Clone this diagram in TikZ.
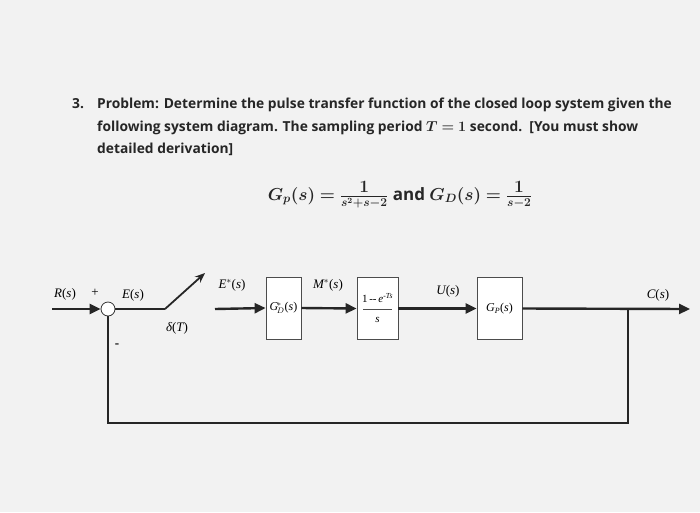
\documentclass[tikz,border=0pt]{standalone}
\usepackage{amsmath,bm}
\usepackage{fontspec}
\setmainfont{Open Sans}
\newfontfamily\serifm{Liberation Serif}
\usetikzlibrary{arrows.meta}
\newcommand{\vi}[1]{{\itshape #1}}
\begin{document}
\begin{tikzpicture}[x=1pt,y=-1pt,
  sig/.style={line width=2.4pt,draw=black!85},
  arr/.style={sig,-{Triangle[length=11pt,width=10pt]}},
  blk/.style={draw=black!70,line width=0.8pt,fill=white,minimum width=35pt,minimum height=62pt,inner sep=0pt},
  lbl/.style={font=\serifm\fontsize{13}{13}\selectfont,inner sep=0pt},
  txt/.style={font=\bfseries\fontsize{13.8}{13.8}\selectfont,anchor=base west,inner sep=0pt,text=black!85}]
\fill[black!5] (0,0) rectangle (700,512);
\node[txt] (n3) at (72,108) {3.};
\node[txt] (l1) at (97,108) {Problem: Determine the pulse transfer function of the closed loop system given the};
\node[txt] (l2) at (97,131) {following system diagram. The sampling period $\bm{T=1}$ second.\ \ [You must show};
\node[txt] (l3) at (97,153) {detailed derivation]};
\node[font=\bfseries\fontsize{17}{17}\selectfont,text=black!85] (eq) at (400,195) {$\bm{G_p(s)=\frac{\textstyle 1}{s^2+s-2}}$ and $\bm{G_D(s)=\frac{\textstyle 1}{s-2}}$};
% diagram
\coordinate (rin) at (52,309);
\node[circle,draw=black!80,line width=0.8pt,minimum size=14pt,inner sep=0pt,fill=white] (sum) at (108,309) {};
\coordinate (sw1) at (165,309);
\coordinate (sw2) at (205,273);
\coordinate (ein) at (215,309);
\node[blk,font=\serifm\fontsize{12}{12}\selectfont] (b1) at (283.5,308) {\vi{G}$^{\!*}_{\!D}$(\vi{s})};
\node[blk,minimum width=41pt] (b2) at (377.5,308.5) {};
\node[inner sep=0pt,font=\serifm\fontsize{11}{11}\selectfont] (f1) at (377.5,298) {1\,--\,\vi{e}$^{\text{-\vi{Ts}}}$};
\draw[black!70,line width=0.6pt] (363,309)--(392,309);
\node[inner sep=0pt,font=\serifm\fontsize{11}{11}\selectfont] (f2) at (377.5,320) {\vi{s}};
\node[blk,minimum width=45pt,font=\serifm\fontsize{12}{12}\selectfont] (b3) at (499.5,308.5) {\vi{G}$_{\text{\vi{P}}}$(\vi{s})};
\coordinate (cout) at (690,309);
\coordinate (br) at (628,309);
\coordinate (fb1) at (628,423);
\coordinate (fb2) at (108,423);
\draw[arr] (rin) -- (sum.west);
\draw[sig] (sum.east) -- (sw1);
\draw[sig,line width=1.8pt,-{Stealth[length=10pt,width=8pt]}] (sw1) -- (sw2);
\draw[arr] (ein) -- (b1.west);
\draw[arr] (b1.east) -- (b2.west);
\draw[arr] (b2.east) -- (b3.west);
\draw[arr] (b3.east) -- (cout);
\draw[sig] (br) -- (fb1) -- (fb2) -- (sum.south);
\node[lbl] (R) at (65,294) {\vi{R}(\vi{s})};
\node[lbl] (plus) at (95,293) {+};
\node[lbl] (E) at (133,295) {\vi{E}(\vi{s})};
\node[lbl] (minus) at (117,346) {\bfseries -};
\node[lbl] (d) at (177,328) {\vi{δ}(\vi{T})};
\node[lbl] (Es) at (232,285) {\vi{E}$^*$(\vi{s})};
\node[lbl] (Ms) at (328,285) {\vi{M}$^*$(\vi{s})};
\node[lbl] (U) at (448,291) {\vi{U}(\vi{s})};
\node[lbl] (C) at (658,295) {\vi{C}(\vi{s})};
\end{tikzpicture}
\end{document}
